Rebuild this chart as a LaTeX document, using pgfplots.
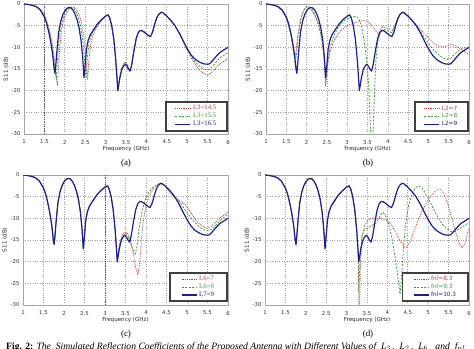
\documentclass[border=0pt]{standalone}
\usepackage{pgfplots}
\pgfplotsset{compat=1.18}
\usepackage{fontspec}
\setmainfont{Liberation Serif}
\newfontfamily\tickfont{DejaVu Sans}
\definecolor{cR}{RGB}{205,55,60}
\definecolor{cG}{RGB}{60,160,60}
\definecolor{cB}{RGB}{30,30,150}
\tikzset{fr/.style={fill=white, draw=black!75, line width=1.1bp}}
\pgfplotsset{
 sp/.style={
  scale only axis, height=130bp,
  xmin=1, xmax=6, ymin=-30, ymax=0,
  xtick={1,1.5,...,6}, ytick={-30,-25,...,0},
  grid=major, major grid style={dotted, gray!75, line width=0.6bp},
  axis line style={gray!70, line width=0.6bp},
  tick style={draw=none},
  /pgf/number format/assume math mode=true,
  ticklabel style={font=\tickfont\fontsize{5.4}{6}\selectfont, text=black!80},
  xticklabel style={yshift=-2.5bp},
  xlabel={Frequency (GHz)}, ylabel={S11 (dB)},
  label style={font=\tickfont\fontsize{5.6}{6}\selectfont, text=black!85},
  xlabel style={at={(axis description cs:0.5,-0.115)}, anchor=center},
  ylabel style={at={(axis description cs:-0.088,0.5)}, anchor=center},
  legend style={anchor=center, draw=none, fill=none, inner xsep=1bp, inner ysep=0.5bp,
    row sep=-2bp},
  legend cell align=left,
 },
 rr/.style={draw=cR, line width=0.8bp, densely dotted,
   legend image code/.code={\draw[draw=cR, line width=0.8bp, densely dotted] (0bp,0bp) -- (15bp,0bp);}},
 gg/.style={draw=cG, line width=0.8bp, dash pattern=on 2bp off 1.5bp,
   legend image code/.code={\draw[draw=cG, line width=0.8bp, dash pattern=on 2bp off 1.5bp] (0bp,0bp) -- (15bp,0bp);}},
 bb/.style={draw=cB, line width=1.2bp, line join=round, solid,
   legend image code/.code={\draw[draw=cB, line width=1.2bp, solid] (0bp,0bp) -- (15bp,0bp);}},
 lfs/.style={legend style={font=\fontsize{6.8}{7}\selectfont}},
 lfss/.style={legend style={font=\tickfont\fontsize{5.8}{7}\selectfont}},
 vl/.style={draw=black!65, densely dotted, line width=0.8bp, forget plot},
}
\begin{document}
\begin{tikzpicture}[x=1bp,y=1bp]
\useasboundingbox (0bp,0bp) rectangle (474bp,349bp);
\clip (0bp,0bp) rectangle (474bp,349bp);
% (a)
\begin{axis}[sp, lfs, width=204bp, at={(24bp,215bp)}, anchor=south west,
  legend style={at={(axis description cs:0.846,0.135)}}]
\addplot[vl] coordinates {(1.5,-30) (1.5,0)};
\addplot[rr] coordinates {(1.00,0) (1.10,-0.1) (1.20,-0.3) (1.30,-0.6) (1.40,-1.2) (1.50,-2.5) (1.60,-5.2) (1.65,-7.0) (1.70,-9.5) (1.75,-13.0) (1.79,-17.0) (1.82,-18.7) (1.85,-14.0) (1.88,-9.5) (1.93,-5.5) (2.00,-3.0) (2.07,-1.6) (2.13,-0.9) (2.20,-0.7) (2.26,-0.9) (2.31,-1.6) (2.36,-2.7) (2.41,-4.3) (2.46,-7.0) (2.50,-10.5) (2.53,-14.0) (2.56,-17.5) (2.59,-13.0) (2.63,-9.5) (2.68,-7.5) (2.75,-6.0) (2.82,-4.8) (2.90,-3.8) (3.00,-2.9) (3.06,-2.5) (3.10,-3.2) (3.15,-5.0) (3.20,-8.0) (3.25,-13.0) (3.30,-20.0) (3.35,-16.8) (3.40,-14.6) (3.45,-13.7) (3.49,-13.4) (3.53,-13.9) (3.57,-14.8) (3.60,-15.3) (3.64,-14.0) (3.70,-10.5) (3.75,-8.0) (3.80,-6.6) (3.85,-6.1) (3.90,-6.2) (3.95,-6.5) (4.00,-6.9) (4.05,-7.3) (4.10,-7.5) (4.15,-6.5) (4.20,-4.8) (4.25,-3.3) (4.30,-2.4) (4.36,-1.9) (4.40,-2.0) (4.50,-2.8) (4.60,-3.8) (4.70,-5.0) (4.80,-6.6) (4.90,-8.5) (5.00,-10.6) (5.10,-12.5) (5.20,-14.0) (5.30,-15.2) (5.40,-16.0) (5.50,-16.4) (5.55,-16.2) (5.60,-15.8) (5.70,-14.8) (5.80,-13.8) (5.90,-13.2) (6.00,-12.5)};
\addlegendentry{\textcolor{cR}{L3=14.5}}
\addplot[gg] coordinates {(1.00,0) (1.10,-0.1) (1.20,-0.3) (1.30,-0.6) (1.40,-1.3) (1.50,-2.7) (1.60,-5.7) (1.65,-7.8) (1.70,-10.5) (1.75,-14.5) (1.79,-17.3) (1.82,-13.0) (1.86,-8.0) (1.92,-4.5) (2.00,-2.2) (2.08,-1.0) (2.15,-0.7) (2.22,-1.0) (2.28,-1.9) (2.33,-3.0) (2.38,-4.8) (2.43,-7.5) (2.48,-12.0) (2.52,-17.3) (2.55,-12.5) (2.60,-8.5) (2.66,-7.0) (2.75,-5.5) (2.85,-4.2) (2.92,-3.5) (3.00,-2.8) (3.06,-2.5) (3.10,-3.2) (3.15,-5.0) (3.20,-8.0) (3.25,-13.0) (3.30,-20.0) (3.35,-16.9) (3.40,-14.8) (3.45,-13.9) (3.49,-13.6) (3.53,-14.1) (3.57,-15.0) (3.60,-15.4) (3.64,-14.0) (3.70,-10.5) (3.75,-8.0) (3.80,-6.6) (3.85,-6.1) (3.90,-6.2) (3.95,-6.5) (4.00,-6.9) (4.05,-7.3) (4.10,-7.5) (4.15,-6.5) (4.20,-4.8) (4.25,-3.3) (4.30,-2.4) (4.36,-1.9) (4.40,-2.0) (4.50,-2.8) (4.60,-3.8) (4.70,-5.0) (4.80,-6.6) (4.90,-8.5) (5.00,-10.4) (5.10,-12.1) (5.20,-13.4) (5.30,-14.3) (5.40,-15.0) (5.50,-15.2) (5.55,-15.1) (5.60,-14.6) (5.70,-13.5) (5.80,-12.4) (5.90,-11.8) (6.00,-11.2)};
\addlegendentry{\textcolor{cG}{L3=15.5}}
\addplot[bb] coordinates {(1.00,0) (1.10,-0.1) (1.20,-0.3) (1.30,-0.6) (1.40,-1.4) (1.50,-3.0) (1.55,-4.3) (1.60,-6.2) (1.65,-8.5) (1.70,-11.5) (1.74,-15.0) (1.76,-16.0) (1.78,-14.0) (1.81,-10.5) (1.85,-6.5) (1.90,-4.0) (1.95,-2.5) (2.00,-1.6) (2.05,-1.0) (2.10,-0.8) (2.15,-0.9) (2.20,-1.4) (2.25,-2.3) (2.30,-3.6) (2.35,-5.5) (2.40,-8.5) (2.44,-12.5) (2.47,-17.0) (2.50,-14.0) (2.53,-10.5) (2.57,-8.5) (2.62,-7.2) (2.70,-6.0) (2.80,-4.6) (2.90,-3.6) (3.00,-2.8) (3.06,-2.5) (3.10,-3.2) (3.15,-5.0) (3.20,-8.0) (3.25,-13.0) (3.30,-20.0) (3.35,-17.0) (3.40,-15.0) (3.45,-14.2) (3.48,-13.9) (3.52,-14.3) (3.56,-15.0) (3.60,-15.5) (3.64,-14.0) (3.70,-10.5) (3.75,-8.0) (3.80,-6.6) (3.85,-6.1) (3.90,-6.2) (3.95,-6.5) (4.00,-6.9) (4.05,-7.3) (4.10,-7.5) (4.15,-6.5) (4.20,-4.8) (4.25,-3.3) (4.30,-2.4) (4.36,-1.9) (4.40,-2.0) (4.50,-2.8) (4.60,-3.8) (4.70,-5.0) (4.80,-6.6) (4.90,-8.5) (5.00,-10.3) (5.10,-11.8) (5.20,-12.8) (5.30,-13.4) (5.40,-13.8) (5.50,-13.9) (5.55,-13.8) (5.60,-13.3) (5.70,-12.2) (5.80,-11.2) (5.90,-10.6) (6.00,-10.0)};
\addlegendentry{\textcolor{cB}{L3=16.5}}
\draw[fr] (axis description cs:0.696,0.023) rectangle (axis description cs:0.995,0.246);
\end{axis}
% (b)
\begin{axis}[sp, lfss, width=203bp, at={(266bp,215bp)}, anchor=south west,
  legend style={at={(axis description cs:0.864,0.135)}}]
\addplot[rr] coordinates {(1.00,0) (1.10,-0.1) (1.20,-0.3) (1.30,-0.7) (1.40,-1.6) (1.50,-3.3) (1.55,-4.7) (1.60,-6.6) (1.66,-9.6) (1.71,-12.5) (1.74,-11.0) (1.78,-7.5) (1.85,-3.6) (1.92,-1.6) (2.00,-0.6) (2.05,-0.7) (2.12,-1.3) (2.20,-2.6) (2.28,-4.5) (2.35,-7.0) (2.42,-11.5) (2.47,-19.0) (2.52,-14.0) (2.58,-11.0) (2.65,-9.0) (2.75,-7.2) (2.85,-6.0) (3.00,-5.0) (3.20,-4.3) (3.40,-3.8) (3.50,-4.0) (3.60,-4.8) (3.70,-6.2) (3.77,-7.0) (3.82,-6.0) (3.87,-5.2) (3.95,-5.5) (4.05,-6.0) (4.12,-6.0) (4.20,-4.3) (4.28,-2.6) (4.36,-1.9) (4.50,-2.8) (4.60,-3.8) (4.70,-4.8) (4.80,-5.8) (4.90,-6.8) (5.00,-7.8) (5.10,-8.8) (5.20,-9.5) (5.30,-9.9) (5.40,-9.9) (5.50,-9.5) (5.58,-9.3) (5.70,-9.8) (5.80,-10.5) (5.90,-11.1) (6.00,-11.6)};
\addlegendentry{\textcolor{cR}{L2=7}}
\addplot[gg] coordinates {(1.00,0) (1.10,-0.1) (1.20,-0.3) (1.30,-0.7) (1.40,-1.5) (1.50,-3.2) (1.55,-4.6) (1.60,-6.5) (1.66,-9.8) (1.72,-14.0) (1.75,-11.5) (1.79,-7.5) (1.86,-3.5) (1.93,-1.4) (2.00,-0.6) (2.06,-0.7) (2.13,-1.3) (2.20,-2.4) (2.28,-4.3) (2.35,-6.8) (2.42,-11.0) (2.47,-18.0) (2.52,-13.5) (2.58,-10.0) (2.65,-7.8) (2.75,-5.8) (2.85,-4.5) (2.95,-3.7) (3.05,-3.2) (3.15,-2.9) (3.22,-2.8) (3.28,-3.3) (3.35,-5.0) (3.42,-8.5) (3.48,-13.0) (3.53,-19.0) (3.57,-28.0) (3.61,-35.0) (3.65,-26.0) (3.70,-14.0) (3.75,-8.8) (3.82,-6.4) (3.90,-5.8) (4.00,-6.2) (4.10,-6.6) (4.20,-4.5) (4.28,-2.6) (4.36,-1.9) (4.50,-2.8) (4.60,-3.8) (4.70,-5.0) (4.80,-6.3) (4.90,-7.7) (5.00,-9.0) (5.10,-10.3) (5.20,-11.3) (5.30,-12.1) (5.40,-12.6) (5.47,-12.8) (5.55,-12.5) (5.65,-11.6) (5.75,-10.7) (5.85,-10.2) (6.00,-10.0)};
\addlegendentry{\textcolor{cG}{L2=8}}
\addplot[bb] coordinates {(1.00,0) (1.10,-0.1) (1.20,-0.3) (1.30,-0.6) (1.40,-1.4) (1.50,-3.0) (1.55,-4.3) (1.60,-6.2) (1.65,-8.5) (1.70,-11.5) (1.74,-15.0) (1.76,-16.0) (1.78,-14.0) (1.81,-10.5) (1.85,-6.5) (1.90,-4.0) (1.95,-2.5) (2.00,-1.6) (2.05,-1.0) (2.10,-0.8) (2.15,-0.9) (2.20,-1.4) (2.25,-2.3) (2.30,-3.6) (2.35,-5.5) (2.40,-8.5) (2.44,-12.5) (2.47,-17.0) (2.50,-14.0) (2.53,-10.5) (2.57,-8.5) (2.62,-7.2) (2.70,-6.0) (2.80,-4.6) (2.90,-3.6) (3.00,-2.8) (3.06,-2.5) (3.10,-3.2) (3.15,-5.0) (3.20,-8.0) (3.25,-13.0) (3.30,-20.0) (3.35,-17.0) (3.40,-15.0) (3.45,-14.2) (3.48,-13.9) (3.52,-14.3) (3.56,-15.0) (3.60,-15.5) (3.64,-14.0) (3.70,-10.5) (3.75,-8.0) (3.80,-6.6) (3.85,-6.1) (3.90,-6.2) (3.95,-6.5) (4.00,-6.9) (4.05,-7.3) (4.10,-7.5) (4.15,-6.5) (4.20,-4.8) (4.25,-3.3) (4.30,-2.4) (4.36,-1.9) (4.40,-2.0) (4.50,-2.8) (4.60,-3.8) (4.70,-5.0) (4.80,-6.6) (4.90,-8.5) (5.00,-10.3) (5.10,-11.8) (5.20,-12.8) (5.30,-13.4) (5.40,-13.8) (5.50,-13.9) (5.55,-13.8) (5.60,-13.3) (5.70,-12.2) (5.80,-11.2) (5.90,-10.6) (6.00,-10.0)};
\addlegendentry{\textcolor{cB}{L2=9}}
\draw[fr] (axis description cs:0.734,0.023) rectangle (axis description cs:0.995,0.246);
\end{axis}
% (c)
\begin{axis}[sp, lfs, width=205bp, at={(23bp,44bp)}, anchor=south west,
  legend style={at={(axis description cs:0.856,0.138)}}]
\addplot[vl] coordinates {(3,-30) (3,0)};
\addplot[rr] coordinates {(1.00,0) (1.10,-0.1) (1.20,-0.3) (1.30,-0.6) (1.40,-1.4) (1.50,-3.0) (1.55,-4.3) (1.60,-6.2) (1.65,-8.5) (1.70,-11.5) (1.74,-15.0) (1.76,-16.0) (1.78,-14.0) (1.81,-10.5) (1.85,-6.5) (1.90,-4.0) (1.95,-2.5) (2.00,-1.6) (2.05,-1.0) (2.10,-0.8) (2.15,-0.9) (2.20,-1.4) (2.25,-2.3) (2.30,-3.6) (2.35,-5.5) (2.40,-8.5) (2.44,-12.5) (2.47,-17.0) (2.50,-14.0) (2.53,-10.5) (2.57,-8.5) (2.62,-7.2) (2.70,-6.0) (2.80,-4.6) (2.90,-3.6) (3.00,-2.8) (3.06,-2.5) (3.10,-3.2) (3.15,-5.0) (3.20,-8.0) (3.25,-13.0) (3.30,-19.5) (3.35,-16.0) (3.42,-13.8) (3.50,-13.1) (3.56,-13.6) (3.62,-15.0) (3.68,-17.5) (3.74,-21.0) (3.80,-23.0) (3.84,-21.0) (3.88,-16.0) (3.93,-11.0) (4.00,-7.0) (4.08,-4.8) (4.18,-3.2) (4.28,-2.3) (4.36,-2.0) (4.45,-2.5) (4.55,-3.6) (4.65,-4.8) (4.75,-5.4) (4.85,-6.0) (4.95,-6.8) (5.05,-8.0) (5.15,-9.5) (5.25,-10.8) (5.35,-11.7) (5.45,-12.2) (5.50,-12.3) (5.60,-11.8) (5.70,-10.9) (5.80,-10.0) (5.90,-9.2) (6.00,-8.5)};
\addlegendentry{\textcolor{cR}{L6=7}}
\addplot[gg] coordinates {(1.00,0) (1.10,-0.1) (1.20,-0.3) (1.30,-0.6) (1.40,-1.4) (1.50,-3.0) (1.55,-4.3) (1.60,-6.2) (1.65,-8.5) (1.70,-11.5) (1.74,-15.0) (1.76,-16.0) (1.78,-14.0) (1.81,-10.5) (1.85,-6.5) (1.90,-4.0) (1.95,-2.5) (2.00,-1.6) (2.05,-1.0) (2.10,-0.8) (2.15,-0.9) (2.20,-1.4) (2.25,-2.3) (2.30,-3.6) (2.35,-5.5) (2.40,-8.5) (2.44,-12.5) (2.47,-17.0) (2.50,-14.0) (2.53,-10.5) (2.57,-8.5) (2.62,-7.2) (2.70,-6.0) (2.80,-4.6) (2.90,-3.6) (3.00,-2.8) (3.06,-2.5) (3.10,-3.2) (3.15,-5.0) (3.20,-8.0) (3.25,-13.0) (3.30,-19.8) (3.35,-16.5) (3.42,-14.2) (3.50,-13.6) (3.56,-14.2) (3.62,-15.5) (3.68,-17.2) (3.74,-18.2) (3.78,-16.5) (3.83,-12.5) (3.90,-8.5) (3.97,-6.0) (4.05,-4.2) (4.15,-3.0) (4.25,-2.3) (4.35,-1.9) (4.45,-2.4) (4.55,-3.4) (4.65,-4.5) (4.75,-5.5) (4.85,-6.6) (4.95,-8.0) (5.05,-9.3) (5.15,-10.5) (5.25,-11.5) (5.35,-12.3) (5.45,-12.8) (5.50,-12.9) (5.60,-12.5) (5.70,-11.6) (5.80,-10.6) (5.90,-9.8) (6.00,-9.0)};
\addlegendentry{\textcolor{cG}{L6=8}}
\addplot[bb] coordinates {(1.00,0) (1.10,-0.1) (1.20,-0.3) (1.30,-0.6) (1.40,-1.4) (1.50,-3.0) (1.55,-4.3) (1.60,-6.2) (1.65,-8.5) (1.70,-11.5) (1.74,-15.0) (1.76,-16.0) (1.78,-14.0) (1.81,-10.5) (1.85,-6.5) (1.90,-4.0) (1.95,-2.5) (2.00,-1.6) (2.05,-1.0) (2.10,-0.8) (2.15,-0.9) (2.20,-1.4) (2.25,-2.3) (2.30,-3.6) (2.35,-5.5) (2.40,-8.5) (2.44,-12.5) (2.47,-17.0) (2.50,-14.0) (2.53,-10.5) (2.57,-8.5) (2.62,-7.2) (2.70,-6.0) (2.80,-4.6) (2.90,-3.6) (3.00,-2.8) (3.06,-2.5) (3.10,-3.2) (3.15,-5.0) (3.20,-8.0) (3.25,-13.0) (3.30,-20.0) (3.35,-17.0) (3.40,-15.0) (3.45,-14.2) (3.48,-13.9) (3.52,-14.3) (3.56,-15.0) (3.60,-15.5) (3.64,-14.0) (3.70,-10.5) (3.75,-8.0) (3.80,-6.6) (3.85,-6.1) (3.90,-6.2) (3.95,-6.5) (4.00,-6.9) (4.05,-7.3) (4.10,-7.5) (4.15,-6.5) (4.20,-4.8) (4.25,-3.3) (4.30,-2.4) (4.36,-1.9) (4.40,-2.0) (4.50,-2.8) (4.60,-3.8) (4.70,-5.0) (4.80,-6.6) (4.90,-8.5) (5.00,-10.3) (5.10,-11.8) (5.20,-12.8) (5.30,-13.4) (5.40,-13.8) (5.50,-13.9) (5.55,-13.8) (5.60,-13.3) (5.70,-12.2) (5.80,-11.2) (5.90,-10.6) (6.00,-10.0)};
\addlegendentry{\textcolor{cB}{L7=9}}
\draw[fr] (axis description cs:0.717,0.031) rectangle (axis description cs:0.995,0.246);
\end{axis}
% (d)
\begin{axis}[sp, lfss, width=204bp, at={(265bp,44bp)}, anchor=south west,
  legend style={at={(axis description cs:0.836,0.138)}}]
\addplot[rr] coordinates {(1.00,0) (1.10,-0.1) (1.20,-0.3) (1.30,-0.6) (1.40,-1.4) (1.50,-3.0) (1.55,-4.3) (1.60,-6.2) (1.65,-8.5) (1.70,-11.5) (1.74,-15.0) (1.76,-16.0) (1.78,-14.0) (1.81,-10.5) (1.85,-6.5) (1.90,-4.0) (1.95,-2.5) (2.00,-1.6) (2.05,-1.0) (2.10,-0.8) (2.15,-0.9) (2.20,-1.4) (2.25,-2.3) (2.30,-3.6) (2.35,-5.5) (2.40,-8.5) (2.44,-12.5) (2.47,-17.0) (2.50,-14.0) (2.53,-10.5) (2.57,-8.5) (2.62,-7.2) (2.70,-6.0) (2.80,-4.6) (2.90,-3.6) (3.00,-2.8) (3.06,-2.5) (3.10,-3.2) (3.15,-5.0) (3.20,-8.0) (3.25,-13.0) (3.28,-17.0) (3.31,-35.0) (3.34,-20.0) (3.38,-14.0) (3.45,-11.5) (3.52,-10.5) (3.60,-10.0) (3.70,-9.9) (3.80,-10.0) (3.90,-10.2) (4.00,-10.5) (4.10,-11.5) (4.20,-13.2) (4.30,-15.0) (4.40,-16.5) (4.46,-16.7) (4.55,-15.5) (4.65,-13.0) (4.75,-10.5) (4.85,-8.3) (4.95,-6.5) (5.05,-5.0) (5.15,-3.9) (5.25,-3.3) (5.30,-3.3) (5.38,-4.2) (5.46,-6.0) (5.55,-9.0) (5.65,-12.5) (5.75,-15.5) (5.83,-16.8) (5.90,-15.8) (5.95,-14.0) (6.00,-12.2)};
\addlegendentry{\textcolor{cR}{fnl=8.3}}
\addplot[gg] coordinates {(1.00,0) (1.10,-0.1) (1.20,-0.3) (1.30,-0.6) (1.40,-1.4) (1.50,-3.0) (1.55,-4.3) (1.60,-6.2) (1.65,-8.5) (1.70,-11.5) (1.74,-15.0) (1.76,-16.0) (1.78,-14.0) (1.81,-10.5) (1.85,-6.5) (1.90,-4.0) (1.95,-2.5) (2.00,-1.6) (2.05,-1.0) (2.10,-0.8) (2.15,-0.9) (2.20,-1.4) (2.25,-2.3) (2.30,-3.6) (2.35,-5.5) (2.40,-8.5) (2.44,-12.5) (2.47,-17.0) (2.50,-14.0) (2.53,-10.5) (2.57,-8.5) (2.62,-7.2) (2.70,-6.0) (2.80,-4.6) (2.90,-3.6) (3.00,-2.8) (3.06,-2.5) (3.10,-3.2) (3.15,-5.0) (3.20,-8.0) (3.25,-13.0) (3.28,-17.0) (3.30,-27.0) (3.33,-19.0) (3.37,-14.5) (3.42,-12.8) (3.50,-12.3) (3.60,-11.8) (3.70,-11.2) (3.78,-10.2) (3.85,-8.9) (3.90,-8.7) (3.95,-9.3) (4.02,-11.0) (4.10,-14.0) (4.18,-18.5) (4.25,-23.0) (4.31,-27.5) (4.35,-23.0) (4.40,-16.0) (4.45,-11.0) (4.52,-7.0) (4.60,-4.5) (4.68,-3.0) (4.76,-2.5) (4.85,-3.0) (4.95,-4.5) (5.05,-6.3) (5.15,-8.2) (5.25,-10.0) (5.35,-11.4) (5.45,-12.4) (5.55,-13.0) (5.62,-13.1) (5.70,-12.8) (5.80,-12.2) (5.90,-11.6) (6.00,-11.0)};
\addlegendentry{\textcolor{cG}{fnl=9.3}}
\addplot[bb] coordinates {(1.00,0) (1.10,-0.1) (1.20,-0.3) (1.30,-0.6) (1.40,-1.4) (1.50,-3.0) (1.55,-4.3) (1.60,-6.2) (1.65,-8.5) (1.70,-11.5) (1.74,-15.0) (1.76,-16.0) (1.78,-14.0) (1.81,-10.5) (1.85,-6.5) (1.90,-4.0) (1.95,-2.5) (2.00,-1.6) (2.05,-1.0) (2.10,-0.8) (2.15,-0.9) (2.20,-1.4) (2.25,-2.3) (2.30,-3.6) (2.35,-5.5) (2.40,-8.5) (2.44,-12.5) (2.47,-17.0) (2.50,-14.0) (2.53,-10.5) (2.57,-8.5) (2.62,-7.2) (2.70,-6.0) (2.80,-4.6) (2.90,-3.6) (3.00,-2.8) (3.06,-2.5) (3.10,-3.2) (3.15,-5.0) (3.20,-8.0) (3.25,-13.0) (3.30,-20.0) (3.35,-17.0) (3.40,-15.0) (3.45,-14.2) (3.48,-13.9) (3.52,-14.3) (3.56,-15.0) (3.60,-15.5) (3.64,-14.0) (3.70,-10.5) (3.75,-8.0) (3.80,-6.6) (3.85,-6.1) (3.90,-6.2) (3.95,-6.5) (4.00,-6.9) (4.05,-7.3) (4.10,-7.5) (4.15,-6.5) (4.20,-4.8) (4.25,-3.3) (4.30,-2.4) (4.36,-1.9) (4.40,-2.0) (4.50,-2.8) (4.60,-3.8) (4.70,-5.0) (4.80,-6.6) (4.90,-8.5) (5.00,-10.3) (5.10,-11.8) (5.20,-12.8) (5.30,-13.4) (5.40,-13.8) (5.50,-13.9) (5.55,-13.8) (5.60,-13.3) (5.70,-12.2) (5.80,-11.2) (5.90,-10.6) (6.00,-10.0)};
\addlegendentry{\textcolor{cB}{fnl=10.3}}
\draw[fr] (axis description cs:0.676,0.031) rectangle (axis description cs:0.995,0.246);
\end{axis}
\node[font=\fontsize{9}{10}\selectfont] at (126bp,186bp) {(a)};
\node[font=\fontsize{9}{10}\selectfont] at (368bp,186bp) {(b)};
\node[font=\fontsize{9}{10}\selectfont] at (126bp,15bp) {(c)};
\node[font=\fontsize{9}{10}\selectfont] at (368bp,15bp) {(d)};
\node[anchor=base west, inner sep=0pt, font=\fontsize{9.7}{10}\selectfont] at (6bp,-0.5bp) {\textbf{Fig. 2:} \textit{The\ \ Simulated Reflection Coefficients of the Proposed Antenna with Different Values of\ \ L$_3$\,,\ \ L$_2$\,,\ \ L$_6$\ \ \ and\ \ f$_{nl}$}};
\end{tikzpicture}
\end{document}
